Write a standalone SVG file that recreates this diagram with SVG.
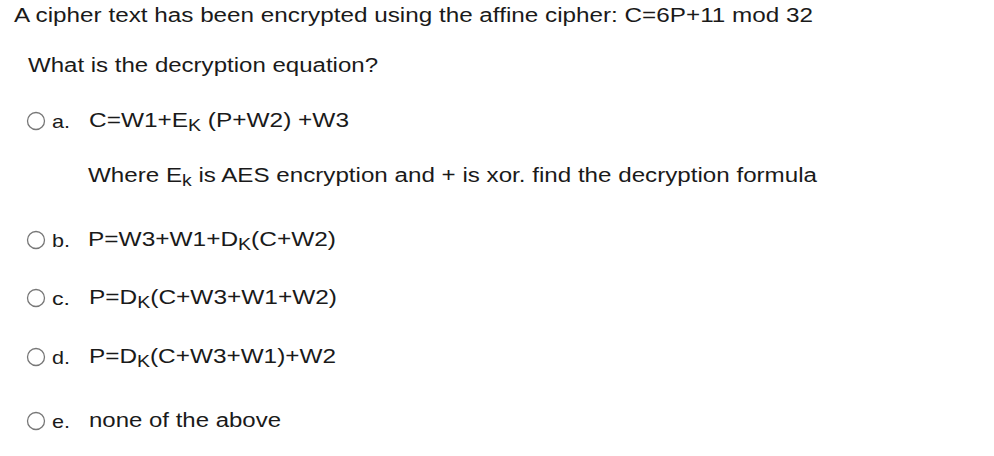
<svg xmlns="http://www.w3.org/2000/svg" width="994" height="456" viewBox="0 0 994 456">
<style>
text{font-family:"Liberation Sans",Arial,sans-serif;fill:#1a1a1a}
.q{font-size:20px}
.o{font-size:20px}
.l{font-size:19px}
.r{fill:#fff;stroke:#777;stroke-width:1.3}
.s{font-size:16px}
</style>
<rect width="994" height="456" fill="#fff"/>
<text class="q" x="14" y="22" textLength="799" lengthAdjust="spacingAndGlyphs">A cipher text has been encrypted using the affine cipher: C=6P+11 mod 32</text>
<text class="q" x="28" y="72" textLength="350" lengthAdjust="spacingAndGlyphs">What is the decryption equation?</text>
<g id="opt-a"><circle class="r" cx="36" cy="121" r="8.5"/><text class="l" x="52" y="128" textLength="18" lengthAdjust="spacingAndGlyphs">a.</text><text class="o" x="89" y="127" textLength="260" lengthAdjust="spacingAndGlyphs">C=W1+E<tspan class="s" dy="4">K</tspan><tspan dy="-4"> (P+W2) +W3</tspan></text></g>
<text class="o" x="88" y="182" textLength="729" lengthAdjust="spacingAndGlyphs">Where E<tspan class="s" dy="4">k</tspan><tspan dy="-4"> is AES encryption and + is xor. find the decryption formula</tspan></text>
<g id="opt-b"><circle class="r" cx="36" cy="240" r="8.5"/><text class="l" x="52" y="247" textLength="18" lengthAdjust="spacingAndGlyphs">b.</text><text class="o" x="88" y="246" textLength="248" lengthAdjust="spacingAndGlyphs">P=W3+W1+D<tspan class="s" dy="4">K</tspan><tspan dy="-4">(C+W2)</tspan></text></g>
<g id="opt-c"><circle class="r" cx="36" cy="298" r="8.5"/><text class="l" x="52" y="305" textLength="18" lengthAdjust="spacingAndGlyphs">c.</text><text class="o" x="89" y="304" textLength="248" lengthAdjust="spacingAndGlyphs">P=D<tspan class="s" dy="4">K</tspan><tspan dy="-4">(C+W3+W1+W2)</tspan></text></g>
<g id="opt-d"><circle class="r" cx="36" cy="357" r="8.5"/><text class="l" x="52" y="364" textLength="18" lengthAdjust="spacingAndGlyphs">d.</text><text class="o" x="89" y="363" textLength="247" lengthAdjust="spacingAndGlyphs">P=D<tspan class="s" dy="4">K</tspan><tspan dy="-4">(C+W3+W1)+W2</tspan></text></g>
<g id="opt-e"><circle class="r" cx="36" cy="421" r="8.5"/><text class="l" x="52" y="428" textLength="18" lengthAdjust="spacingAndGlyphs">e.</text><text class="o" x="89" y="427" textLength="192" lengthAdjust="spacingAndGlyphs">none of the above</text></g>
</svg>
